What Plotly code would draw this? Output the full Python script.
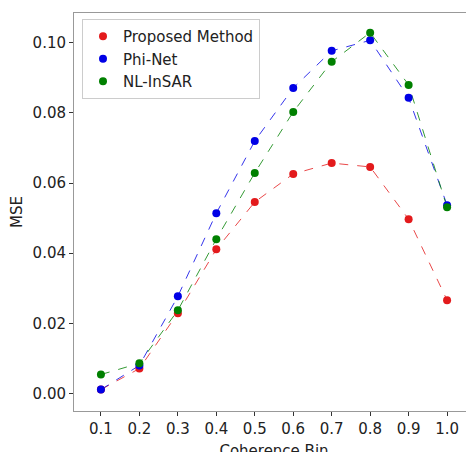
import plotly.graph_objects as go

bins = [0.1,0.2,0.3,0.4,0.5,0.6,0.7,0.8,0.9,1.0]
proposed = [0.0011,0.0071,0.0229,0.0411,0.0546,0.0626,0.0657,0.0646,0.0497,0.0266]
phinet = [0.0011,0.0080,0.0277,0.0514,0.0720,0.0871,0.0977,0.1007,0.0843,0.0537]
nlinsar = [0.0054,0.0086,0.0237,0.0440,0.0629,0.0803,0.0946,0.1029,0.0880,0.0531]
series = [("Proposed Method", proposed, "#e31a1c"), ("Phi-Net", phinet, "#0000e6"), ("NL-InSAR", nlinsar, "#008000")]

fig = go.Figure()
for name, vals, c in series:
    fig.add_trace(go.Scatter(x=bins, y=vals, mode="lines", showlegend=False,
        line=dict(color=c, width=0.8, dash="dash")))
for name, vals, c in series:
    fig.add_trace(go.Scatter(x=bins, y=vals, name=name, mode="markers",
        marker=dict(color=c, size=8)))

ax = dict(showline=True, mirror=True, linecolor="#999", linewidth=1, showgrid=False, zeroline=False,
          ticks="outside", ticklen=4, tickcolor="#333", tickfont=dict(size=15, color="#222"))
fig.update_layout(width=474, height=452, plot_bgcolor="white", paper_bgcolor="white",
    margin=dict(l=66, r=8, t=5, b=49, autoexpand=False), font=dict(family="DejaVu Sans", color="#222"),
    xaxis=dict(**ax, tickvals=bins, ticktext=[f"{b:.1f}" for b in bins], range=[0.03, 1.07], automargin=False,
               title=dict(text="Coherence Bin", font=dict(size=15), standoff=10)),
    yaxis=dict(**ax, tickvals=[0,0.02,0.04,0.06,0.08,0.10], ticktext=["0.00","0.02","0.04","0.06","0.08","0.10"],
               range=[-0.005, 0.1085], automargin=False, title=dict(text="MSE", font=dict(size=15), standoff=8)),
    legend=dict(x=0.02, y=0.985, bgcolor="white", bordercolor="#ccc", borderwidth=1, font=dict(size=15)))
fig.write_html("out.html")
